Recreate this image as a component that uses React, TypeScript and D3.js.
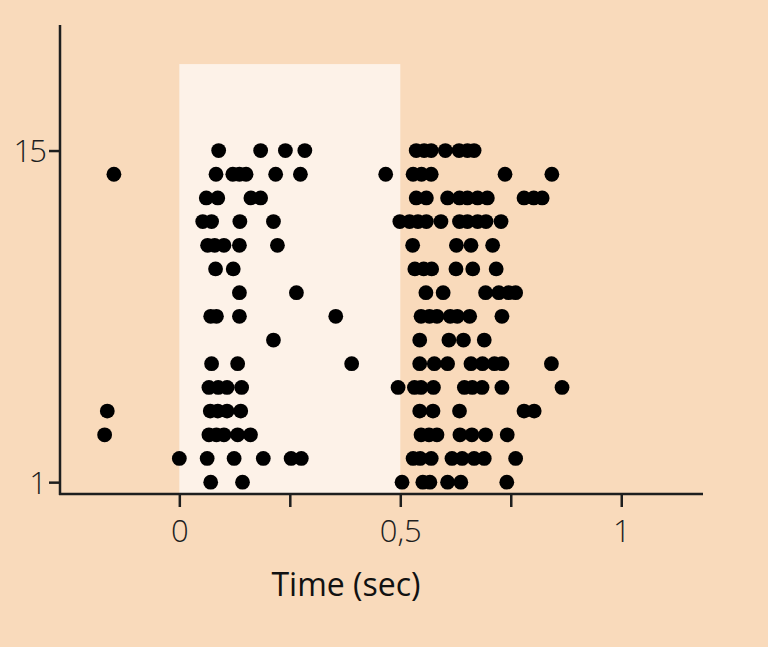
import React, { useEffect, useRef } from "react";
import * as d3 from "d3";

// Raster plot: spike times (sec) for each trial
const trialNumbers = [1, 2, 3, 4, 5, 6, 7, 8, 9, 10, 11, 12, 13, 14, 15];

const spikeTimes: number[][] = [
  [0.071, 0.143, 0.504, 0.551, 0.567, 0.607, 0.637, 0.741], // 1
  [0.0, 0.063, 0.124, 0.19, 0.253, 0.276, 0.529, 0.545, 0.57, 0.617, 0.64, 0.667, 0.69, 0.761], // 2
  [-0.169, 0.067, 0.084, 0.101, 0.132, 0.161, 0.547, 0.565, 0.583, 0.635, 0.662, 0.693, 0.742], // 3
  [-0.163, 0.07, 0.087, 0.108, 0.139, 0.544, 0.574, 0.634, 0.78, 0.803], // 4
  [0.067, 0.088, 0.108, 0.141, 0.495, 0.532, 0.547, 0.575, 0.645, 0.663, 0.685, 0.73, 0.866], // 5
  [0.073, 0.132, 0.39, 0.544, 0.577, 0.607, 0.66, 0.686, 0.713, 0.73, 0.842], // 6
  [0.213, 0.544, 0.61, 0.643, 0.69], // 7
  [0.071, 0.084, 0.136, 0.354, 0.547, 0.566, 0.583, 0.613, 0.629, 0.657, 0.73], // 8
  [0.136, 0.265, 0.558, 0.597, 0.693, 0.723, 0.745, 0.761], // 9
  [0.082, 0.122, 0.533, 0.553, 0.571, 0.626, 0.664, 0.717], // 10
  [0.064, 0.08, 0.101, 0.136, 0.222, 0.528, 0.627, 0.66, 0.709], // 11
  [0.053, 0.073, 0.137, 0.213, 0.499, 0.521, 0.54, 0.559, 0.592, 0.634, 0.652, 0.675, 0.694, 0.728], // 12
  [0.061, 0.087, 0.162, 0.184, 0.536, 0.559, 0.607, 0.634, 0.652, 0.675, 0.697, 0.78, 0.802, 0.821], // 13
  [-0.148, 0.083, 0.121, 0.136, 0.151, 0.218, 0.274, 0.467, 0.529, 0.548, 0.57, 0.737, 0.843], // 14
  [0.089, 0.184, 0.24, 0.284, 0.536, 0.554, 0.57, 0.602, 0.633, 0.652, 0.667], // 15
];

const xTickValues = [0, 0.25, 0.5, 0.75, 1];
const xTickLabels = ["0", "", "0,5", "", "1"];
const yTickValues = [1, 15];

// stimulus window (time) and how high the shaded band reaches (trial units)
const stimulusWindow = [0, 0.5];
const stimulusTop = 18.65;

const xDomain = [-0.27, 1.185];
const yDomain = [0.5, 20.3];

const WIDTH = 768;
const HEIGHT = 647;
const FONT = "'Open Sans', 'DejaVu Sans', sans-serif";

const App: React.FC = () => {
  const svgRef = useRef<SVGSVGElement>(null);

  useEffect(() => {
    if (!svgRef.current) return;
    const svg = d3.select(svgRef.current);
    svg.selectAll("*").remove();

    const margin = { left: 60, right: 65, top: 25, bottom: 153 };
    const x = d3
      .scaleLinear()
      .domain(xDomain)
      .range([margin.left, WIDTH - margin.right]);
    const y = d3
      .scaleLinear()
      .domain(yDomain)
      .range([HEIGHT - margin.bottom, margin.top]);
    const y0 = HEIGHT - margin.bottom;

    // background
    svg
      .append("rect")
      .attr("width", WIDTH)
      .attr("height", HEIGHT)
      .attr("fill", "#f9dabb");

    // stimulus band
    svg
      .append("rect")
      .attr("x", x(stimulusWindow[0]))
      .attr("width", x(stimulusWindow[1]) - x(stimulusWindow[0]))
      .attr("y", y(stimulusTop))
      .attr("height", y0 - y(stimulusTop))
      .attr("fill", "#fdf2e8");

    // spikes
    const points = spikeTimes.flatMap((times, i) =>
      times.map((t) => ({ t, trial: trialNumbers[i] }))
    );
    svg
      .append("g")
      .selectAll("circle")
      .data(points)
      .enter()
      .append("circle")
      .attr("cx", (d) => x(d.t))
      .attr("cy", (d) => y(d.trial))
      .attr("r", 7.4)
      .attr("fill", "#000");

    // x axis
    const xAxis = svg
      .append("g")
      .attr("transform", `translate(0, ${y0})`)
      .call(
        d3
          .axisBottom(x)
          .tickValues(xTickValues)
          .tickFormat((_, i) => xTickLabels[i])
          .tickSize(13)
          .tickSizeOuter(0)
      );
    xAxis.select(".domain").remove();
    xAxis.selectAll("line").attr("stroke", "#1e1e1e").attr("stroke-width", 2.5);
    xAxis
      .selectAll("text")
      .attr("y", 26)
      .style("font-family", FONT)
      .style("font-weight", 300)
      .style("font-size", "31px")
      .style("fill", "#1e1e1e");

    // y axis
    const yAxis = svg
      .append("g")
      .attr("transform", `translate(${margin.left}, 0)`)
      .call(
        d3
          .axisLeft(y)
          .tickValues(yTickValues)
          .tickFormat(d3.format("d"))
          .tickSize(11)
          .tickSizeOuter(0)
      );
    yAxis.select(".domain").remove();
    yAxis.selectAll("line").attr("stroke", "#1e1e1e").attr("stroke-width", 2.5);
    yAxis
      .selectAll("text")
      .attr("x", -15)
      .attr("dy", "0.36em")
      .style("font-family", FONT)
      .style("font-weight", 300)
      .style("font-size", "31px")
      .style("letter-spacing", "-2px")
      .style("fill", "#1e1e1e");

    // axis lines
    svg
      .append("line")
      .attr("x1", margin.left)
      .attr("x2", margin.left)
      .attr("y1", margin.top)
      .attr("y2", y0 + 1)
      .attr("stroke", "#1e1e1e")
      .attr("stroke-width", 2.5);
    svg
      .append("line")
      .attr("x1", margin.left - 1)
      .attr("x2", WIDTH - margin.right)
      .attr("y1", y0)
      .attr("y2", y0)
      .attr("stroke", "#1e1e1e")
      .attr("stroke-width", 2.5);

    // axis title
    svg
      .append("text")
      .attr("x", 346)
      .attr("y", 596)
      .attr("text-anchor", "middle")
      .style("font-family", FONT)
      .style("font-size", "32px")
      .style("fill", "#111")
      .text("Time (sec)");
  }, []);

  return (
    <svg
      ref={svgRef}
      width={WIDTH}
      height={HEIGHT}
      style={{ position: "absolute", left: 0, top: 0, display: "block" }}
    />
  );
};

export default App;
